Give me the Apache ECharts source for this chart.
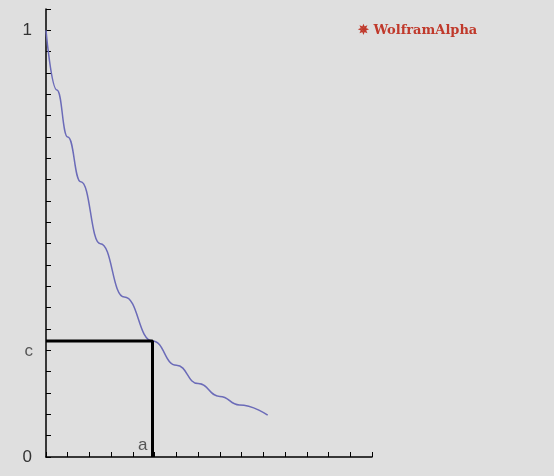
<!DOCTYPE html>
<html><head><meta charset="utf-8">
<script src="https://cdn.jsdelivr.net/npm/echarts@6/dist/echarts.min.js"></script>
<style>html,body{margin:0;background:#dfdfdf}#c{width:554px;height:476px}</style>
</head><body><div id="c"></div>
<script>
// curve
const curveX = [0, 0.5, 1.0, 1.6, 2.5, 3.6, 4.9, 6.0, 7.0, 8.0, 8.9, 10.2]
const curveY = [1.0, 0.86, 0.75, 0.645, 0.50, 0.375, 0.272, 0.215, 0.172, 0.142, 0.122, 0.098]
const aVal = 4.9
const cVal = 0.272

const chart = echarts.init(document.getElementById('c'))
chart.setOption({
  backgroundColor: '#dfdfdf',
  animation: false,
  grid: { left: 46, right: 182, top: 9, bottom: 19 },
  xAxis: {
    type: 'value', min: 0, max: 15, interval: 1,
    axisLine: { lineStyle: { color: '#000', width: 1.5 } },
    axisTick: { inside: true, length: 5, lineStyle: { color: '#000' } },
    axisLabel: { show: false }, splitLine: { show: false }
  },
  yAxis: {
    type: 'value', min: 0, max: 1.05, interval: 0.05,
    axisLine: { lineStyle: { color: '#000', width: 1.5 } },
    axisTick: { inside: true, length: 5, lineStyle: { color: '#000' } },
    axisLabel: {
      color: '#333', fontSize: 17, margin: 14,
      formatter: v => (Math.abs(v) < 1e-9 ? '0' : Math.abs(v - 1) < 1e-9 ? '1' : '')
    },
    splitLine: { show: false }
  },
  graphic: [{
    type: 'text', left: 358, top: 24,
    style: { text: '✵ WolframAlpha', fill: '#c0392b', font: 'bold 13px "DejaVu Serif"' }
  }],
  series: [
    {
      type: 'line', smooth: 0.5, smoothMonotone: 'x', symbol: 'none',
      lineStyle: { color: '#6b6bb8', width: 1.5 },
      data: curveX.map((x, i) => [x, curveY[i]])
    },
    {
      type: 'line', symbol: 'none',
      lineStyle: { color: '#000', width: 3 },
      data: [[0, cVal], [aVal, cVal], [aVal, 0]]
    },
    {
      type: 'scatter', symbolSize: 0,
      label: { show: true, color: '#333', fontSize: 17, formatter: p => p.value[2] },
      data: [
        { value: [0, cVal, 'c'], label: { position: 'left', offset: [-8, 10] } },
        { value: [aVal, 0, 'a'], label: { position: 'left', offset: [0, -12] } }
      ]
    }
  ]
})
</script></body></html>
